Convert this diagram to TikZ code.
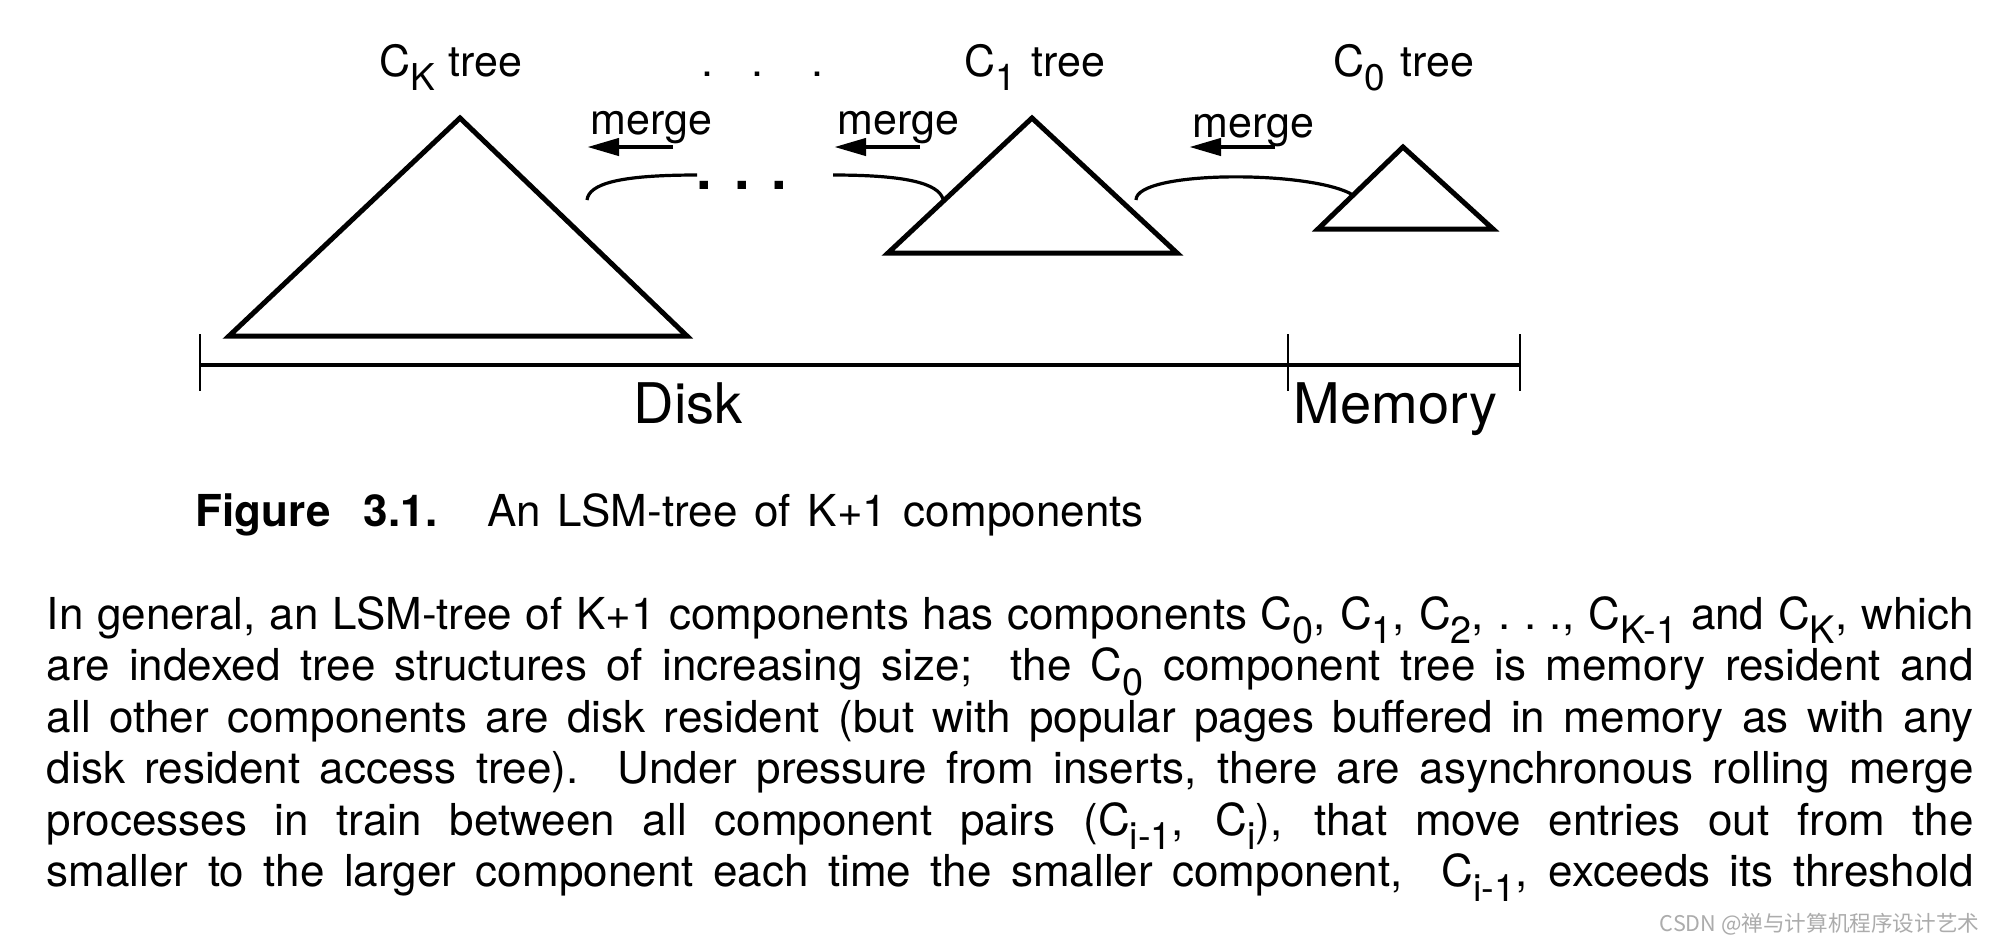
\documentclass[tikz,border=0pt]{standalone}
\usepackage{fontspec}
\setmainfont{TeX Gyre Heros}
\newfontfamily\cjkfont{Noto Sans CJK SC}
\usetikzlibrary{arrows.meta}
\newcommand{\lowidx}[1]{\raisebox{-.34em}{\scalebox{.86}{#1}}}
\newcommand{\lsmtree}[6]{%
  \coordinate (#1-top) at (#2,#3);
  \coordinate (#1-l) at (#4,#6);
  \coordinate (#1-r) at (#5,#6);
  \draw[line width=1.25pt] (#1-top) -- (#1-r) -- (#1-l) -- cycle;
}
\newcommand{\mergelabel}[3]{%
  \node[lbl] (#1) at (#2,#3) {merge};
  \coordinate (#1-tail) at (#2+83,147);
  \coordinate (#1-tip) at (#2-3,147);
  \draw[->,line width=1.2pt] (#1-tail) -- (#1-tip);
}

\begin{document}
\begin{tikzpicture}[x=.25pt,y=-.25pt,>={Triangle[length=8pt,width=4.2pt]},
  lbl/.style={inner sep=0pt,anchor=base west,font=\fontsize{10.75}{12}\selectfont},
  big/.style={inner sep=0pt,anchor=base west,font=\fontsize{14}{16}\selectfont},
  flow/.style={line width=.8pt}]
  \path[use as bounding box,fill=white] (0,0) rectangle (1996,946);

  \lsmtree{ck}{460}{118}{229}{687}{336}
  \lsmtree{c1}{1032}{118}{888}{1177}{253}
  \lsmtree{c0}{1403}{147}{1318}{1493}{229}

  \node[lbl] (ckl) at (379,76) {C\lowidx{K}\hspace{.3em}tree};
  \node[lbl] (c1l) at (964,76) {C\lowidx{1}\hspace{.35em}tree};
  \node[lbl] (c0l) at (1333,76) {C\lowidx{0}\hspace{.35em}tree};
  \node[lbl] (dotsa) at (701,76) {.\hspace{9.5pt}.\hspace{12pt}.};
  \node[lbl,font=\fontsize{14}{16}\selectfont\bfseries] (dotsb) at (696,189) {.\hspace{5.5pt}.\hspace{5.5pt}.};

  \mergelabel{m1}{590}{134}
  \mergelabel{m2}{837}{134}
  \mergelabel{m3}{1192}{137}

  \coordinate (f1a) at (587,200);
  \coordinate (f1b) at (697,175);
  \coordinate (f2a) at (833,175);
  \coordinate (f2b) at (943,199);
  \coordinate (f3a) at (1136,200);
  \coordinate (f3b) at (1353,195);
  \draw[flow] (f1a) .. controls (589,184) and (618,175) .. (f1b);
  \draw[flow] (f2a) .. controls (905,175) and (938,183) .. (f2b);
  \draw[flow] (f3a) .. controls (1136,170) and (1312,170) .. (f3b);

  \coordinate (ax-l) at (200,365);
  \coordinate (ax-m) at (1288,365);
  \coordinate (ax-r) at (1520,365);
  \draw[line width=1.2pt] (ax-l) -- (ax-r);
  \foreach \t in {ax-l,ax-m,ax-r}
    \draw[line width=.7pt] (\t) ++(0,-31) -- ++(0,57);
  \node[big] (disk) at (633,423) {Disk};
  \node[big] (mem) at (1293,423) {Memory};

  \node[inner sep=0pt,anchor=base west,font=\fontsize{11}{13}\selectfont] (cap) at (195,526)
    {\makebox[237pt][s]{\textbf{Figure\ \ 3.1.}\ \ \ An LSM-tree of K+1 components}};

  \node[inner sep=0pt,anchor=base west,text width=481.75pt,align=justify,
    font=\fontsize{11}{12.875}\selectfont] (para) at (46,629) {%
    \parfillskip=0pt \tolerance=9999 \hyphenpenalty=10000 \exhyphenpenalty=10000
    In general, an LSM-tree of K+1 components has components C\lowidx{0}, C\lowidx{1}, C\lowidx{2}, .~.~., C\lowidx{K-1} and C\lowidx{K}, which\linebreak
    are indexed tree structures of increasing size;\ \ the C\lowidx{0} component tree is memory resident and\linebreak
    all other components are disk resident (but with popular pages buffered in memory as with any\linebreak
    disk resident access tree).\ \ Under pressure from inserts, there are asynchronous rolling merge\linebreak
    processes in train between all component pairs (C\lowidx{i-1}, C\lowidx{i}), that move entries out from the\linebreak
    smaller to the larger component each time the smaller component,\ \ C\lowidx{i-1}, exceeds its threshold\par};

  \node[inner sep=0pt,anchor=base east,text=gray!65,font=\cjkfont\fontsize{5.4}{6}\selectfont] (wm) at (1980,931)
    {CSDN @禅与计算机程序设计艺术};
\end{tikzpicture}
\end{document}
